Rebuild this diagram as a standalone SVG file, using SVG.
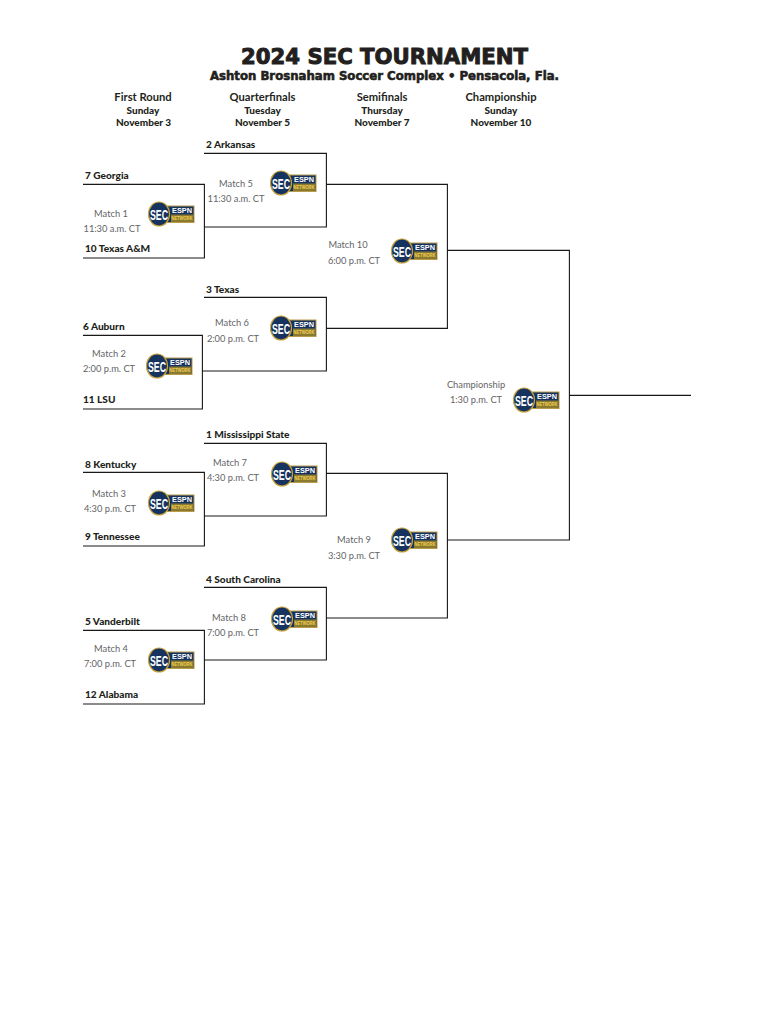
<svg xmlns="http://www.w3.org/2000/svg" width="768" height="1024" viewBox="0 0 768 1024">
<style>
text{font-family:"Lato","Liberation Sans",sans-serif;fill:#231f20}
.t{font-family:"DejaVu Sans",sans-serif;font-weight:700;font-size:22px;text-anchor:middle;stroke:#231f20;stroke-width:1px}
.s{font-family:"DejaVu Sans",sans-serif;font-weight:700;font-size:12px;text-anchor:middle;stroke:#231f20;stroke-width:.6px}
.h{font-size:11.2px;font-weight:700;text-anchor:middle}
.d{font-size:10px;font-weight:900;text-anchor:middle}
.n{font-size:10.100px;font-weight:900}
.m{font-size:9.300px;fill:#636466;text-anchor:middle}
.c path{fill:none;stroke:#1a1718;stroke-width:1.1}
.a{font-family:"Liberation Sans",sans-serif;font-weight:700}
</style>
<defs>
<g id="logo">
<rect x="13" y="5" width="33" height="16.500" fill="#16335f" stroke="#b89a4a" stroke-width="1"/>
<rect x="23" y="13.500" width="22.500" height="7.500" fill="#8a7a30"/>
<ellipse cx="11" cy="13" rx="10.500" ry="12" fill="#16335f" stroke="#c9a23a" stroke-width="1.200"/>
<text class="a" x="11" y="18.500" font-size="15" text-anchor="middle" textLength="18" lengthAdjust="spacingAndGlyphs" style="fill:#fff">SEC</text>
<text class="a" x="34" y="12" font-size="7.500" text-anchor="middle" textLength="20" lengthAdjust="spacingAndGlyphs" style="fill:#fff">ESPN</text>
<text class="a" x="34" y="19.300" font-size="5.500" text-anchor="middle" textLength="21" lengthAdjust="spacingAndGlyphs" style="fill:#f0cf50">NETWORK</text>
</g>
</defs>
<g id="header">
<text class="t" x="384.500" y="64" textLength="287" lengthAdjust="spacingAndGlyphs">2024 SEC TOURNAMENT</text>
<text class="s" x="384.500" y="80" textLength="349" lengthAdjust="spacingAndGlyphs">Ashton Brosnaham Soccer Complex • Pensacola, Fla.</text>
<text class="h" x="143" y="101">First Round</text><text class="d" x="143" y="114">Sunday</text><text class="d" x="143.500" y="126">November 3</text>
<text class="h" x="262.500" y="101">Quarterfinals</text><text class="d" x="262.500" y="114">Tuesday</text><text class="d" x="262.500" y="126">November 5</text>
<text class="h" x="382" y="101">Semifinals</text><text class="d" x="382" y="114">Thursday</text><text class="d" x="382" y="126">November 7</text>
<text class="h" x="501" y="101">Championship</text><text class="d" x="501" y="114">Sunday</text><text class="d" x="501" y="126">November 10</text>
</g>
<g id="connectors" class="c">
<path d="M83 184.400H204.400V258H83"/>
<path d="M83 335.400H202.400V409H83"/>
<path d="M83 472.400H204.400V546H83"/>
<path d="M83 630.400H204.400V704H83"/>
<path d="M204 153.400H326.400V227H204"/>
<path d="M204 297.400H326.400V371H202"/>
<path d="M204 443.400H326.400V516H204"/>
<path d="M204 587.400H326.400V660H204"/>
<path d="M326 184.400H447.400V328.400H326"/>
<path d="M326 473.400H447.400V618H326"/>
<path d="M447 250.400H569.400V540H447"/>
<path d="M569 395.400H691"/>
</g>
<g id="teams">
<text class="n" x="85" y="179">7 Georgia</text>
<text class="n" x="85" y="252">10 Texas A&amp;M</text>
<text class="n" x="83" y="330">6 Auburn</text>
<text class="n" x="83" y="403">11 LSU</text>
<text class="n" x="85" y="468">8 Kentucky</text>
<text class="n" x="85" y="540">9 Tennessee</text>
<text class="n" x="85" y="625">5 Vanderbilt</text>
<text class="n" x="85" y="698">12 Alabama</text>
<text class="n" x="206" y="148">2 Arkansas</text>
<text class="n" x="206" y="293">3 Texas</text>
<text class="n" x="206" y="438">1 Mississippi State</text>
<text class="n" x="206" y="583">4 South Carolina</text>
</g>
<g id="match1"><text class="m" x="111" y="217">Match 1</text><text class="m" x="112" y="232">11:30 a.m. CT</text><use href="#logo" x="148" y="201"/></g>
<g id="match2"><text class="m" x="109" y="357">Match 2</text><text class="m" x="109" y="372">2:00 p.m. CT</text><use href="#logo" x="146" y="353"/></g>
<g id="match3"><text class="m" x="109" y="497">Match 3</text><text class="m" x="110" y="512">4:30 p.m. CT</text><use href="#logo" x="148" y="490"/></g>
<g id="match4"><text class="m" x="111" y="652">Match 4</text><text class="m" x="110" y="667">7:00 p.m. CT</text><use href="#logo" x="148" y="647"/></g>
<g id="match5"><text class="m" x="236" y="187">Match 5</text><text class="m" x="236" y="202">11:30 a.m. CT</text><use href="#logo" x="270" y="170"/></g>
<g id="match6"><text class="m" x="232" y="326">Match 6</text><text class="m" x="233" y="342">2:00 p.m. CT</text><use href="#logo" x="270" y="315"/></g>
<g id="match7"><text class="m" x="230" y="466">Match 7</text><text class="m" x="233" y="481">4:30 p.m. CT</text><use href="#logo" x="271" y="461"/></g>
<g id="match8"><text class="m" x="229" y="621">Match 8</text><text class="m" x="233" y="636">7:00 p.m. CT</text><use href="#logo" x="271" y="606"/></g>
<g id="match9"><text class="m" x="354" y="543">Match 9</text><text class="m" x="354" y="559">3:30 p.m. CT</text><use href="#logo" x="391" y="527"/></g>
<g id="match10"><text class="m" x="348" y="248">Match 10</text><text class="m" x="354" y="264">6:00 p.m. CT</text><use href="#logo" x="391" y="238"/></g>
<g id="championship"><text class="m" x="476" y="388">Championship</text><text class="m" x="476" y="403">1:30 p.m. CT</text><use href="#logo" x="513" y="387"/></g>
</svg>
